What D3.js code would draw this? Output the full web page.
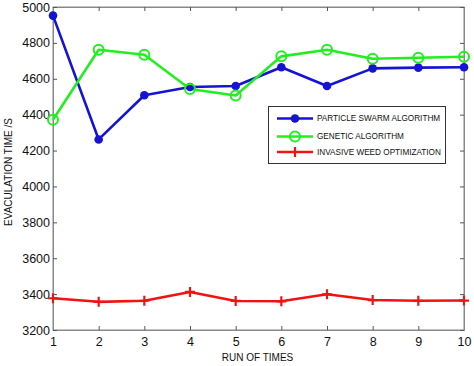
<!DOCTYPE html>
<html><head><meta charset="utf-8">
<script src="https://cdn.jsdelivr.net/npm/d3@7"></script>
<style>body{margin:0;background:#fff}svg{display:block}</style>
</head><body>
<svg id="c" width="474" height="366"></svg>
<script>
const runs = [1,2,3,4,5,6,7,8,9,10];
const pso = [4952,4262,4508,4554,4560,4664,4560,4658,4662,4664];
const ga  = [4372,4762,4734,4543,4507,4725,4762,4712,4717,4723];
const iwo = [3377,3357,3363,3412,3362,3360,3399,3367,3363,3364];
const yTicks = [3200,3400,3600,3800,4000,4200,4400,4600,4800,5000];
const names = ["PARTICLE SWARM ALGORITHM","GENETIC ALGORITHM","INVASIVE WEED OPTIMIZATION"];
const colors = ["#1414d2","#22ee22","#ee1414"];

const svg = d3.select("#c");
const L=53,R=464,T=7,B=330;
const x = d3.scaleLinear().domain([1,10]).range([L,R]);
const y = d3.scaleLinear().domain([3200,5000]).range([B,T]);
const font = "Liberation Sans, Arial, sans-serif";

svg.append("rect").attr("x",L).attr("y",T).attr("width",R-L).attr("height",B-T)
  .attr("fill","#fff").attr("stroke","#888").attr("stroke-width",1);

const xa = svg.append("g").attr("transform",`translate(0,${B})`)
  .call(d3.axisBottom(x).tickValues(runs).tickSize(-4).tickPadding(7).tickFormat(d3.format("d")));
const xt = svg.append("g").attr("transform",`translate(0,${T})`)
  .call(d3.axisTop(x).tickValues(runs).tickSize(-4).tickFormat(""));
const ya = svg.append("g").attr("transform",`translate(${L},0)`)
  .call(d3.axisLeft(y).tickValues(yTicks).tickSize(-4).tickPadding(3).tickFormat(d3.format("d")));
const yr = svg.append("g").attr("transform",`translate(${R},0)`)
  .call(d3.axisRight(y).tickValues(yTicks).tickSize(-4).tickFormat(""));
[xa,xt,ya,yr].forEach(g=>{
  g.select(".domain").attr("stroke","#888");
  g.selectAll(".tick line").attr("stroke","#555");
  g.selectAll("text").attr("font-family",font).attr("font-size",12.5).attr("fill","#111");
});

const line = d3.line().x((d,i)=>x(runs[i])).y(d=>y(d));
const series = [pso,ga,iwo];
series.forEach((s,k)=>{
  svg.append("path").datum(s).attr("d",line).attr("fill","none")
    .attr("stroke",colors[k]).attr("stroke-width",2.6).attr("stroke-linejoin","round");
});
function marker(g,k,cx,cy){
  if(k===0){
    g.append("circle").attr("cx",cx).attr("cy",cy).attr("r",4.3).attr("fill",colors[0]);
  } else if(k===1){
    g.append("circle").attr("cx",cx).attr("cy",cy).attr("r",5).attr("fill","none")
      .attr("stroke",colors[1]).attr("stroke-width",2);
  } else {
    g.append("path").attr("d",`M${cx-5},${cy}H${cx+5}M${cx},${cy-5}V${cy+5}`)
      .attr("stroke",colors[2]).attr("stroke-width",2.2);
  }
}
series.forEach((s,k)=>{
  const g = svg.append("g");
  s.forEach((v,i)=>marker(g,k,x(runs[i]),y(v)));
});

const lg = svg.append("g");
lg.append("rect").attr("x",268.5).attr("y",106.5).attr("width",177).attr("height",57)
  .attr("fill","#fff").attr("stroke","#333").attr("stroke-width",1);
const rowsY=[118.5,136.5,152];
names.forEach((n,k)=>{
  lg.append("line").attr("x1",277).attr("x2",313).attr("y1",rowsY[k]).attr("y2",rowsY[k])
    .attr("stroke",colors[k]).attr("stroke-width",2.6);
  marker(lg,k,295,rowsY[k]);
  lg.append("text").attr("x",317).attr("y",rowsY[k]).attr("dy","0.35em")
    .attr("font-family",font).attr("font-size",8.2).attr("fill","#111").text(n);
});

svg.append("text").attr("x",(L+R)/2 - 1).attr("y",361).attr("text-anchor","middle")
  .attr("font-family",font).attr("font-size",10).attr("fill","#111").text("RUN OF TIMES");
svg.append("text").attr("transform",`translate(12,172) rotate(-90)`)
  .attr("text-anchor","middle").attr("font-family",font).attr("font-size",10).attr("fill","#111")
  .text("EVACULATION TIME /S");
</script>
</body></html>
